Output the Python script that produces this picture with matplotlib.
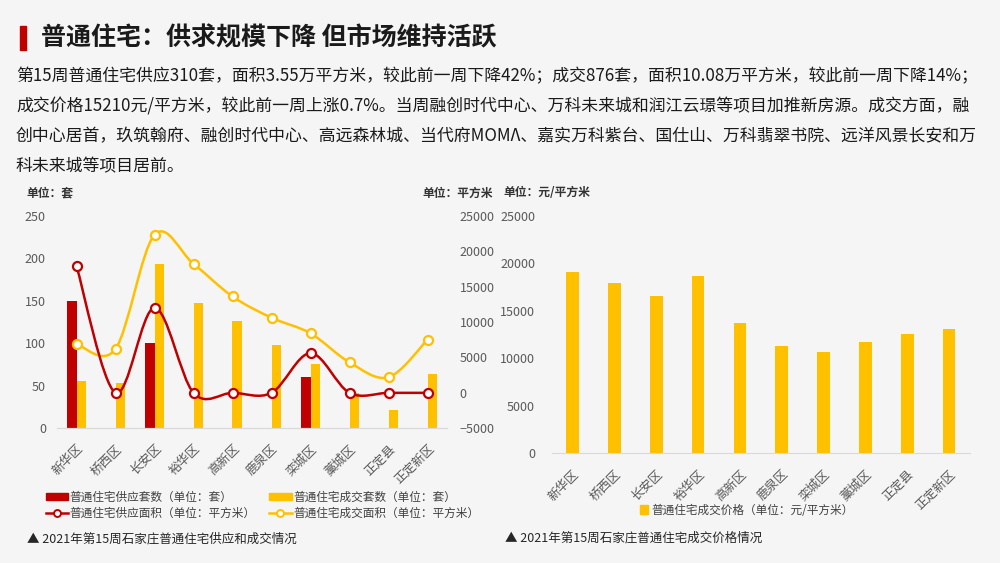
import matplotlib
matplotlib.use('Agg')
import matplotlib.pyplot as plt
from matplotlib.path import Path
from matplotlib.patches import PathPatch, Rectangle
from matplotlib.lines import Line2D
import numpy as np

plt.rcParams['font.family'] = ['Noto Sans CJK SC', 'DejaVu Sans']

# data
districts = ['新华区', '桥西区', '长安区', '裕华区', '高新区', '鹿泉区', '栾城区', '藁城区', '正定县', '正定新区']
supply_sets = [150, 0, 100, 0, 0, 0, 60, 0, 0, 0]
deal_sets = [56, 53, 193, 147, 126, 98, 76, 41, 22, 64]
supply_area = [17900, 0, 12000, 0, 0, 0, 5600, 0, 0, 0]
deal_area = [6900, 6200, 22300, 18200, 13600, 10600, 8400, 4300, 2200, 7500]
deal_price = [19050, 17930, 16560, 18630, 13680, 11260, 10660, 11680, 12590, 13050]

RED = '#C00000'
YEL = '#FFC000'
GREY = '#595959'

title = '普通住宅：供求规模下降 但市场维持活跃'
para = ['第15周普通住宅供应310套，面积3.55万平方米，较此前一周下降42%；成交876套，面积10.08万平方米，较此前一周下降14%；',
        '成交价格15210元/平方米，较此前一周上涨0.7%。当周融创时代中心、万科未来城和润江云璟等项目加推新房源。成交方面，融',
        '创中心居首，玖筑翰府、融创时代中心、高远森林城、当代府MOMΛ、嘉实万科紫台、国仕山、万科翡翠书院、远洋风景长安和万',
        '科未来城等项目居前。']


def smooth(ax, xs, ys, color):
    # excel-like smoothed line (catmull-rom as bezier segments)
    pts = np.column_stack([xs, ys]).astype(float)
    n = len(pts)
    verts = [pts[0]]
    codes = [Path.MOVETO]
    for i in range(n - 1):
        p0 = pts[i - 1] if i > 0 else pts[i]
        p1, p2 = pts[i], pts[i + 1]
        p3 = pts[i + 2] if i + 2 < n else pts[i + 1]
        verts += [p1 + (p2 - p0) / 6, p2 - (p3 - p1) / 6, p2]
        codes += [Path.CURVE4] * 3
    ax.add_patch(PathPatch(Path(verts, codes), fill=False, edgecolor=color, lw=1.8, zorder=3))
    ax.plot(xs, ys, ls='none', marker='o', ms=6.5, mfc='white', mec=color, mew=1.6, zorder=4)


fig = plt.figure(figsize=(10, 5.63), dpi=100)
fig.patch.set_facecolor('#f5f5f6')

# header
fig.add_artist(Rectangle((20 / 1000, 1 - 50 / 563), 6 / 1000, 24 / 563, transform=fig.transFigure, color=RED))
fig.text(0.041, 1 - 38 / 563, title, fontsize=18, fontweight='bold', color='#1a1a1a', va='center')
for i, line in enumerate(para):
    fig.text(0.016, 1 - (76 + 30 * i) / 563, line, fontsize=12.15, color='#1a1a1a', va='center')

x = np.arange(len(districts))

# left chart
ax1 = fig.add_axes([0.057, 0.2393, 0.390, 0.3776])
ax1.set_facecolor('none')
ax1.bar(x - 0.1225, supply_sets, width=0.245, color=RED)
ax1.bar(x + 0.1225, deal_sets, width=0.245, color=YEL)
ax1.set_ylim(0, 250)
ax1.set_xlim(-0.5, len(districts) - 0.5)
ax1.set_yticks(range(0, 251, 50))
ax1.set_xticks(x)
ax1.set_xticklabels(districts, rotation=45, ha='right', rotation_mode='anchor')
ax1.tick_params(axis='y', length=0, pad=8, labelsize=9, labelcolor=GREY)
ax1.tick_params(axis='x', length=0, pad=10, labelsize=9, labelcolor=GREY)

ax2 = ax1.twinx()
smooth(ax2, x, deal_area, YEL)
smooth(ax2, x, supply_area, RED)
ax2.set_ylim(-5000, 25000)
ax2.set_yticks(range(-5000, 25001, 5000))
ax2.tick_params(axis='y', length=0, pad=9, labelsize=9, labelcolor=GREY)

for a in (ax1, ax2):
    for s in ['top', 'left', 'right']:
        a.spines[s].set_visible(False)
    a.spines['bottom'].set_color('#d9d9d9')

fig.text(0.026, 1 - 193 / 563, '单位：套', fontsize=8.5, fontweight='bold', color='#333333', va='center')
fig.text(0.493, 1 - 193 / 563, '单位：平方米', fontsize=8.5, fontweight='bold', color='#333333', va='center', ha='right')

handles = [
    Rectangle((0, 0), 1, 1, color=RED),
    Line2D([], [], color=RED, lw=1.8, marker='o', ms=5, mfc='white', mec=RED, mew=1.4),
    Rectangle((0, 0), 1, 1, color=YEL),
    Line2D([], [], color=YEL, lw=1.8, marker='o', ms=5, mfc='white', mec=YEL, mew=1.4),
]
labels = ['普通住宅供应套数（单位：套）', '普通住宅供应面积（单位：平方米）',
          '普通住宅成交套数（单位：套）', '普通住宅成交面积（单位：平方米）']
fig.legend(handles, labels, ncol=2, loc='upper left', bbox_to_anchor=(0.035, 1 - 480 / 563),
           frameon=False, fontsize=8.4, labelcolor='#404040', handlelength=1.9, handleheight=0.6,
           handletextpad=0.15, columnspacing=1.2, labelspacing=0.3)

fig.text(0.027, 1 - 539 / 563, '▲ 2021年第15周石家庄普通住宅供应和成交情况', fontsize=9, color='#262626', va='center')

# right chart
ax3 = fig.add_axes([0.5517, 0.1948, 0.4183, 0.4220])
ax3.set_facecolor('none')
ax3.bar(x, deal_price, width=0.3, color=YEL)
ax3.set_ylim(0, 25000)
ax3.set_xlim(-0.5, len(districts) - 0.5)
ax3.set_yticks(range(0, 25001, 5000))
ax3.set_xticks(x)
ax3.set_xticklabels(districts, rotation=45, ha='right', rotation_mode='anchor')
ax3.tick_params(axis='y', length=0, pad=12, labelsize=9, labelcolor=GREY)
ax3.tick_params(axis='x', length=0, pad=10, labelsize=9, labelcolor=GREY)
for s in ['top', 'left', 'right']:
    ax3.spines[s].set_visible(False)
ax3.spines['bottom'].set_color('#d9d9d9')

fig.text(0.503, 1 - 193 / 563, '单位：元/平方米', fontsize=8.5, fontweight='bold', color='#333333', va='center')
fig.legend([Rectangle((0, 0), 1, 1, color=YEL)], ['普通住宅成交价格（单位：元/平方米）'],
           loc='center left', bbox_to_anchor=(0.629, 1 - 510 / 563), frameon=False, fontsize=8.4,
           labelcolor='#404040', handlelength=0.7, handleheight=0.7, handletextpad=0.3)
fig.text(0.505, 1 - 538 / 563, '▲ 2021年第15周石家庄普通住宅成交价格情况', fontsize=9, color='#262626', va='center')

fig.savefig('out.png', dpi=100, facecolor=fig.get_facecolor())
